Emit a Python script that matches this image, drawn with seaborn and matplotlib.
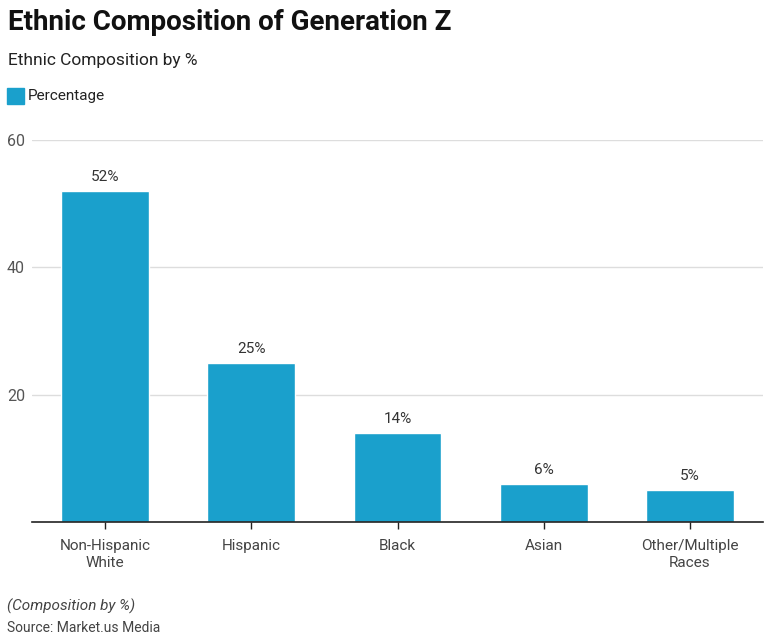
import matplotlib
matplotlib.use("Agg")
import matplotlib.pyplot as plt
import seaborn as sns
import pandas as pd
from matplotlib.patches import Rectangle

categories = ["Non-Hispanic\nWhite", "Hispanic", "Black", "Asian", "Other/Multiple\nRaces"]
values = [52, 25, 14, 6, 5]
labels = ["52%", "25%", "14%", "6%", "5%"]
yticks = [20, 40, 60]

sns.set_theme(style="white")
plt.rcParams['font.family'] = ['Roboto', 'DejaVu Sans']

color = "#1aa0cc"
fig = plt.figure(figsize=(7.68, 6.42), dpi=100)
ax = fig.add_axes([32/768, 1-522/642, (763-32)/768, (522-140)/642])

df = pd.DataFrame({"cat": categories, "val": values})
sns.barplot(data=df, x="cat", y="val", color=color, width=0.6, saturation=1, ax=ax)

ax.set_ylim(0, 60)
ax.set_xlim(-0.5, 4.5)
ax.set_yticks(yticks)
ax.set_yticklabels([str(t) for t in yticks])
ax.grid(axis="y", color="#dddddd", linewidth=1)
ax.set_axisbelow(True)
for s in ["top", "right", "left"]:
    ax.spines[s].set_visible(False)
ax.spines["bottom"].set_color("#222222")
ax.spines["bottom"].set_linewidth(1.2)
ax.set_xlabel("")
ax.set_ylabel("")
ax.tick_params(axis="y", length=0, labelsize=11.5, labelcolor="#555555", pad=5)
ax.tick_params(axis="x", length=5, width=1, color="#222222", labelsize=11, labelcolor="#444444", pad=7, bottom=True)
for t in ax.get_xticklabels():
    t.set_linespacing(1.3)

for i, (v, l) in enumerate(zip(values, labels)):
    ax.annotate(l, (i, v), xytext=(0, 5), textcoords="offset points", ha="center", va="bottom",
                fontsize=11, color="#333333")

fig.text(8/768, 1-22/642, "Ethnic Composition of Generation Z", fontsize=20, fontweight="bold",
         color="#111111", va="center", ha="left")
fig.text(8/768, 1-61/642, "Ethnic Composition by %", fontsize=12.5, color="#222222", va="center", ha="left")
fig.patches.append(Rectangle((7/768, 1-104/642), 17/768, 16/642, transform=fig.transFigure,
                             color=color, figure=fig))
fig.text(28/768, 1-96/642, "Percentage", fontsize=11, color="#222222", va="center", ha="left")
fig.text(7/768, 1-606/642, "(Composition by %)", fontsize=11, style="italic", color="#444444", va="center", ha="left")
fig.text(7/768, 1-628/642, "Source: Market.us Media", fontsize=10, color="#444444", va="center", ha="left")

fig.savefig("out.png", dpi=100)
